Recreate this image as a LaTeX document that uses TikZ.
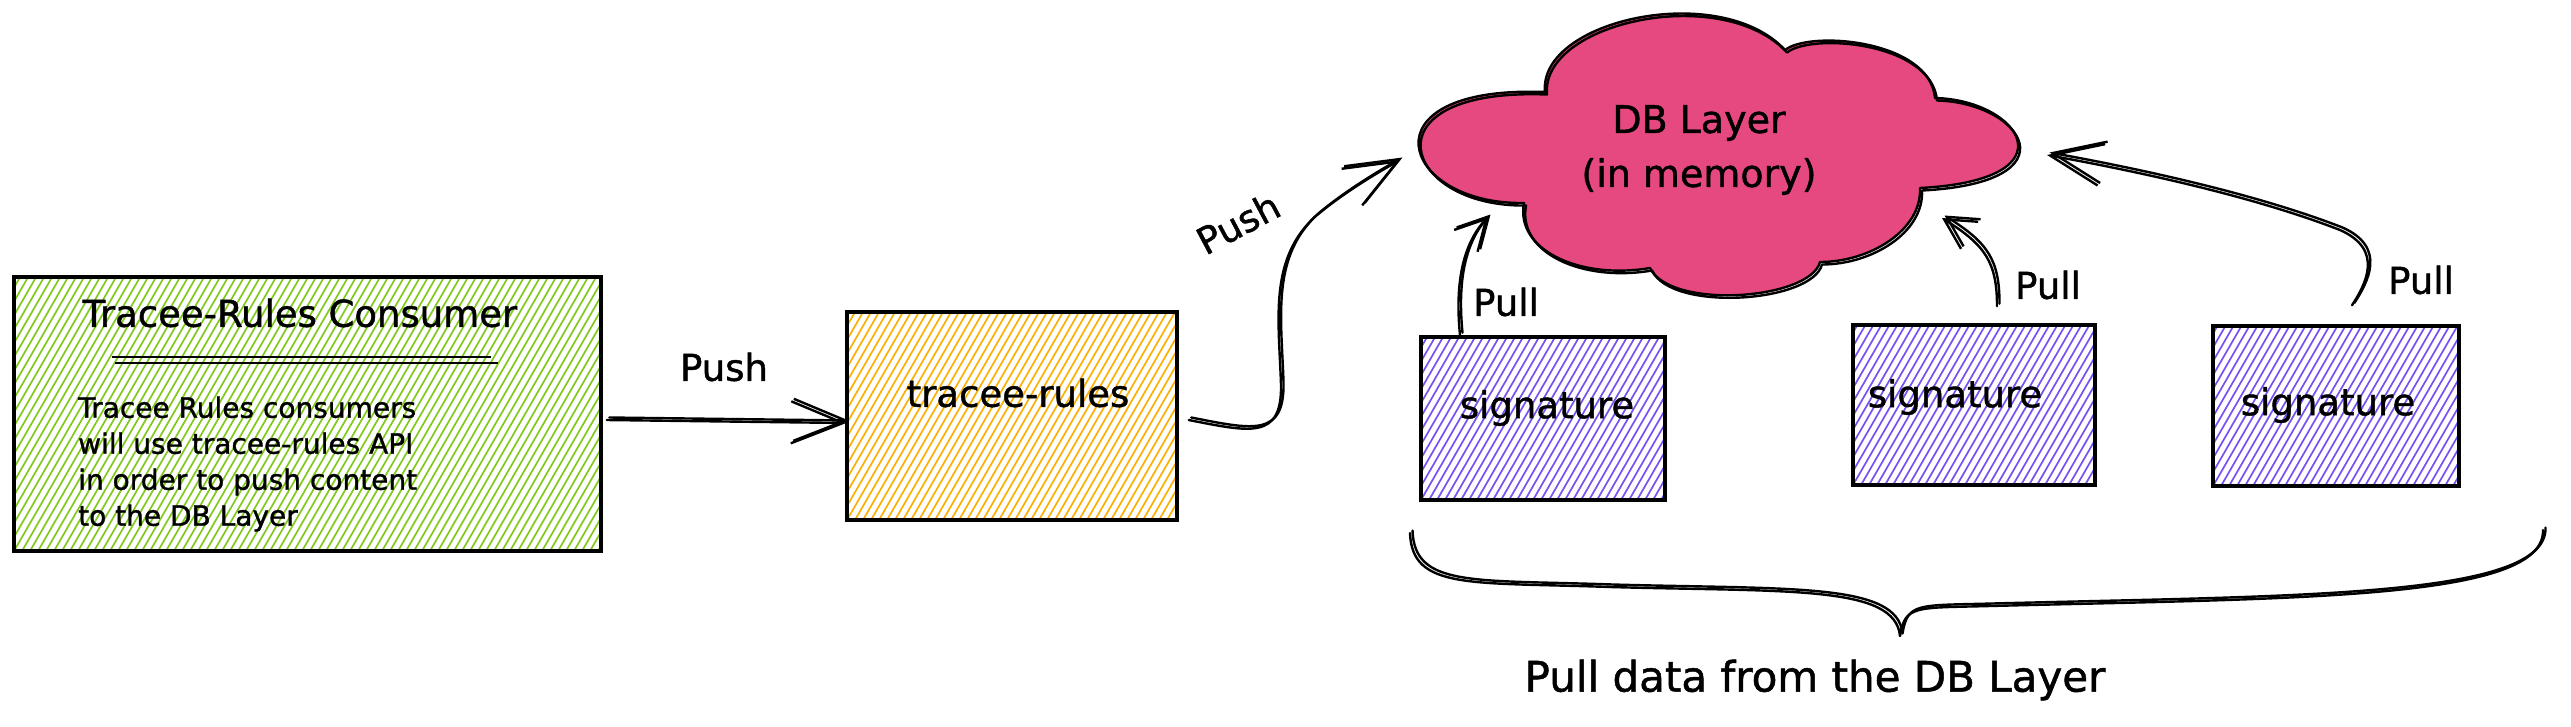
\documentclass[tikz,border=0pt]{standalone}
\usepackage{fontspec}
\setmainfont{DejaVu Sans}[FakeBold=1.2]
\usetikzlibrary{arrows.meta,calc}
\definecolor{hgreen}{HTML}{82C91E}
\definecolor{horange}{HTML}{FAB005}
\definecolor{hviolet}{HTML}{7950F2}
\definecolor{dbpink}{HTML}{E64980}
\newcommand\twicedraw[2]{\draw[conn,#1]#2;\draw[conn,#1,transform canvas={shift={(2.5pt,2.5pt)}}]#2;}
\newcommand\cloudpath{(1545,92) .. controls (1538,20) and (1720,-20) .. (1785,50) .. controls (1810,30) and (1930,40) .. (1935,98) .. controls (2020,100) and (2075,180) .. (1920,188) .. controls (1922,230) and (1870,262) .. (1820,262) .. controls (1810,300) and (1670,310) .. (1650,268) .. controls (1580,280) and (1515,250) .. (1524,203) .. controls (1400,205) and (1360,85) .. cycle}
\tikzset{
 conn/.style={line width=2.4pt, line cap=round, line join=round},
 sbox/.style={draw, line width=3.5pt, inner sep=0pt},
 hatch/.style={path picture={\foreach \i in {-24,...,80}{\draw[color=#1,line width=1.7pt] ([xshift=\i*8pt]path picture bounding box.south west) -- ++(60:340pt);}}},
 lbl/.style={font=\fontsize{37}{44}\selectfont, inner sep=0pt},
 longtip/.style={-{Straight Barb[length=52pt,width=42pt]}},
 shorttip/.style={-{Straight Barb[length=30pt,width=32pt]}}
}
\begin{document}
\begin{tikzpicture}[x=1pt,y=-1pt]
\useasboundingbox (0,0) rectangle (2571,726);
% cloud
\fill[dbpink] \cloudpath;
\draw[conn] \cloudpath;
\draw[conn,transform canvas={shift={(2pt,-2.5pt)}}] \cloudpath;
\node[lbl, align=center, font=\fontsize{38}{54}\selectfont] (db) at (1699,150) {DB Layer\\(in memory)};
\coordinate (cl) at (1400,160);
\coordinate (cb1) at (1488,217);
\coordinate (cb2) at (1942,218);
\coordinate (cr) at (2047,155);
% boxes
\node[sbox, hatch=hgreen, minimum width=587pt, minimum height=274pt] (cons) at (307.5,414) {};
\node[sbox, hatch=horange, minimum width=330pt, minimum height=208pt] (tr) at (1012,416) {};
\node[sbox, hatch=hviolet, minimum width=244pt, minimum height=163pt] (s1) at (1543,418.5) {};
\node[sbox, hatch=hviolet, minimum width=242pt, minimum height=160pt] (s2) at (1974,405) {};
\node[sbox, hatch=hviolet, minimum width=246pt, minimum height=160pt] (s3) at (2336,406) {};
% texts
\node[lbl] (title) at (300,313) {Tracee-Rules Consumer};
\draw[line width=2.8pt] (112,357) -- (491,357);
\draw[line width=2.8pt] (115,363) -- (498,363);
\node[lbl, font=\fontsize{28}{36}\selectfont, anchor=west, align=left] (desc) at (78,464) {Tracee Rules consumers\\will use tracee-rules API\\in order to push content\\to the DB Layer};
\node[lbl] (trl) at (1018,393) {tracee-rules};
\node[lbl] (sg1) at (1547,408) {signature};
\node[lbl] (sg2) at (1955,397) {signature};
\node[lbl] (sg3) at (2328,405) {signature};
\node[lbl] (push1) at (724,367) {Push};
\node[lbl, rotate=28] (push2) at (1238,223) {Push};
\node[lbl] (pl1) at (1506,302) {Pull};
\node[lbl] (pl2) at (2048,285) {Pull};
\node[lbl] (pl3) at (2421,280) {Pull};
\node[lbl, font=\fontsize{42}{50}\selectfont] (foot) at (1815,680) {Pull data from the DB Layer};
% connectors
\twicedraw{longtip}{($(cons.east)+(4,6)$) -- ($(tr.west)+(1,7)$)}
\twicedraw{longtip}{($(tr.east)+(10,4)$) .. controls (1250,432) and (1282,440) .. (1281,385) .. controls (1279,320) and (1268,258) .. (1317,215) .. controls (1340,196) and (1368,178) .. (cl)}
\twicedraw{shorttip}{($(s1.north)+(-83,0)$) .. controls (1455,285) and (1462,245) .. (cb1)}
\twicedraw{shorttip}{($(s2.north)+(23,-17)$) .. controls (1997,262) and (1985,245) .. (cb2)}
\twicedraw{longtip}{($(s3.north)+(16,-19)$) .. controls (2365,285) and (2385,250) .. (2340,230) .. controls (2250,195) and (2130,170) .. (cr)}
% brace
\coordinate (bl) at (1410,533);
\coordinate (br) at (2543,530);
\twicedraw{}{(bl) .. controls (1412,590) and (1470,582) .. (1610,587) .. controls (1790,592) and (1895,585) .. (1900,636) .. controls (1905,605) and (1915,608) .. (1990,606) .. controls (2300,598) and (2545,600) .. (br)}
\end{tikzpicture}
\end{document}
